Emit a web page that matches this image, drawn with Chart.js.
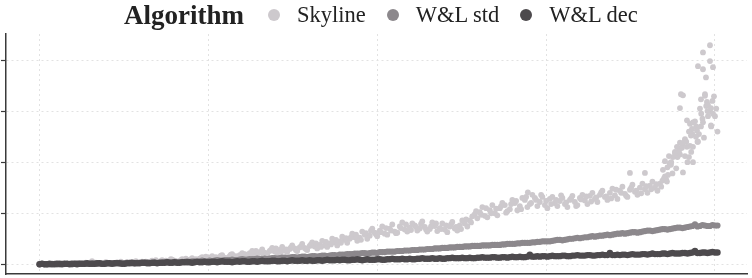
<!DOCTYPE html>
<html>
<head>
<meta charset="utf-8">
<script src="https://cdn.jsdelivr.net/npm/chart.js@4.4.0/dist/chart.umd.min.js"></script>
<style>
  body { margin: 0; background: #fff; }
  #wrap { position: relative; width: 752px; height: 278px; }
  #legend {
    position: absolute; left: 124px; top: 0; height: 30px;
    display: flex; align-items: center;
    font-family: "Liberation Serif", "Times New Roman", serif; color: #222;
  }
  #legend .title { font-weight: bold; font-size: 27px; margin-right: 24px; }
  #legend .dot { width: 12px; height: 12px; border-radius: 50%; margin-right: 17px; }
  #legend .lbl { font-size: 22.5px; margin-right: 21px; }
</style>
</head>
<body>
<div id="wrap">
  <canvas id="chart"></canvas>
  <div id="legend"></div>
</div>
<script>
// series names / colours (legend order)
const seriesNames = ["Skyline", "W&L std", "W&L dec"];
const seriesColors = ["#cdc9cd", "#8c888c", "#4d4a4d"];

// x positions are instance indices 0..135, gridlines every quarter
const xTicks = [0, 33.75, 67.5, 101.25, 135];
const yTicks = [0, 1, 2, 3, 4];

// W&L dec, one reading per index plus one half a step to the right
const decValues = [
  0.00,0.00,0.01,0.00,0.01,0.01,0.00,0.01,0.01,0.01,
  0.01,0.01,0.02,0.01,0.02,0.02,0.02,0.01,0.02,0.02,
  0.02,0.03,0.02,0.03,0.03,0.03,0.03,0.04,0.03,0.04,
  0.04,0.04,0.04,0.05,0.04,0.05,0.05,0.05,0.05,0.05,
  0.05,0.06,0.05,0.06,0.06,0.06,0.06,0.07,0.06,0.07,
  0.07,0.07,0.07,0.07,0.08,0.07,0.08,0.08,0.08,0.08,
  0.08,0.09,0.08,0.09,0.09,0.09,0.09,0.09,0.10,0.09,
  0.10,0.10,0.10,0.10,0.11,0.10,0.11,0.11,0.11,0.11,
  0.12,0.11,0.12,0.12,0.12,0.12,0.13,0.12,0.13,0.13,
  0.13,0.14,0.13,0.14,0.14,0.14,0.15,0.14,0.19,0.15,
  0.15,0.16,0.16,0.16,0.16,0.17,0.16,0.17,0.17,0.17,
  0.18,0.17,0.18,0.18,0.22,0.18,0.18,0.19,0.19,0.19,
  0.19,0.20,0.20,0.20,0.20,0.21,0.21,0.21,0.21,0.22,
  0.22,0.26,0.22,0.23,0.23,0.23
];
const decValuesB = [
  0.01,0.00,0.00,0.01,0.00,0.01,0.01,0.00,0.01,0.02,
  0.01,0.02,0.01,0.02,0.01,0.02,0.01,0.02,0.03,0.02,
  0.03,0.02,0.03,0.02,0.03,0.04,0.03,0.03,0.04,0.04,
  0.03,0.05,0.04,0.04,0.05,0.04,0.06,0.05,0.04,0.06,
  0.06,0.05,0.06,0.05,0.07,0.06,0.07,0.06,0.07,0.06,
  0.08,0.07,0.08,0.07,0.07,0.08,0.07,0.09,0.08,0.09,
  0.09,0.08,0.09,0.10,0.08,0.10,0.09,0.10,0.09,0.10,
  0.11,0.10,0.11,0.10,0.10,0.11,0.12,0.11,0.12,0.11,
  0.11,0.12,0.13,0.12,0.13,0.12,0.12,0.13,0.14,0.13,
  0.14,0.13,0.14,0.13,0.15,0.14,0.14,0.15,0.15,0.16,
  0.16,0.15,0.17,0.16,0.17,0.16,0.17,0.18,0.17,0.18,
  0.17,0.18,0.19,0.18,0.18,0.19,0.19,0.18,0.20,0.19,
  0.20,0.19,0.21,0.20,0.21,0.20,0.22,0.21,0.22,0.21,
  0.23,0.22,0.23,0.22,0.24,0.23
];

// W&L std
const stdValues = [
  0.00,0.00,0.00,0.01,0.00,0.01,0.01,0.01,0.01,0.01,
  0.01,0.01,0.02,0.01,0.02,0.02,0.02,0.02,0.03,0.02,
  0.03,0.03,0.03,0.04,0.03,0.04,0.04,0.05,0.04,0.05,
  0.05,0.06,0.06,0.06,0.07,0.07,0.07,0.08,0.08,0.08,
  0.09,0.09,0.10,0.10,0.10,0.11,0.11,0.12,0.12,0.13,
  0.13,0.14,0.14,0.15,0.15,0.16,0.16,0.17,0.17,0.18,
  0.19,0.19,0.20,0.21,0.21,0.22,0.22,0.23,0.24,0.24,
  0.25,0.25,0.26,0.27,0.27,0.28,0.29,0.29,0.30,0.31,
  0.31,0.32,0.33,0.33,0.34,0.35,0.35,0.36,0.36,0.37,
  0.37,0.38,0.38,0.39,0.40,0.40,0.41,0.42,0.42,0.43,
  0.44,0.45,0.45,0.47,0.48,0.48,0.50,0.51,0.51,0.53,
  0.54,0.54,0.56,0.57,0.57,0.59,0.60,0.60,0.62,0.63,
  0.63,0.65,0.66,0.66,0.68,0.69,0.69,0.71,0.72,0.72,
  0.74,0.78,0.75,0.76,0.75,0.76
];
const stdValuesB = [
  0.01,0.00,0.01,0.00,0.01,0.01,0.00,0.02,0.01,0.01,
  0.02,0.01,0.01,0.02,0.02,0.03,0.02,0.03,0.02,0.03,
  0.03,0.04,0.03,0.03,0.04,0.05,0.04,0.04,0.05,0.06,
  0.06,0.05,0.07,0.06,0.06,0.08,0.07,0.08,0.09,0.08,
  0.10,0.09,0.10,0.11,0.11,0.10,0.12,0.11,0.13,0.12,
  0.14,0.13,0.15,0.14,0.16,0.15,0.17,0.16,0.18,0.17,
  0.19,0.20,0.20,0.21,0.22,0.21,0.23,0.22,0.24,0.25,
  0.25,0.26,0.26,0.27,0.28,0.28,0.29,0.30,0.30,0.31,
  0.32,0.32,0.33,0.34,0.34,0.35,0.36,0.36,0.37,0.37,
  0.38,0.38,0.39,0.40,0.40,0.41,0.42,0.42,0.43,0.44,
  0.45,0.45,0.46,0.48,0.47,0.49,0.50,0.52,0.52,0.53,
  0.55,0.55,0.56,0.58,0.58,0.60,0.61,0.61,0.63,0.62,
  0.64,0.66,0.65,0.67,0.69,0.68,0.70,0.72,0.71,0.73,
  0.75,0.74,0.77,0.75,0.77,0.76
];

// Skyline: three readings per index (offset 0, +0.25, +0.5 of a step)
const skylineA = [
  0.00,0.01,0.00,0.01,0.01,0.00,0.01,0.01,0.02,0.01,0.01,
  0.02,0.02,0.01,0.02,0.02,0.03,0.02,0.03,0.03,0.03,0.04,
  0.04,0.05,0.04,0.06,0.05,0.07,0.06,0.08,0.09,0.08,
  0.11,0.10,0.13,0.12,0.14,0.13,0.16,0.15,0.18,0.20,
  0.22,0.20,0.24,0.23,0.26,0.25,0.28,0.27,0.30,0.31,
  0.33,0.32,0.36,0.35,0.38,0.37,0.41,0.43,0.45,0.48,
  0.50,0.53,0.52,0.58,0.56,0.62,0.66,0.60,0.70,0.64,
  0.74,0.68,0.72,0.76,0.70,0.73,0.69,0.75,0.71,0.68,
  0.74,0.70,0.76,0.80,0.86,0.98,1.02,0.95,1.06,1.00,
  1.10,1.16,1.08,1.20,1.14,1.26,1.18,1.30,1.22,1.16,
  1.28,1.20,1.24,1.18,1.26,1.22,1.30,1.25,1.34,1.28,
  1.36,1.32,1.40,1.35,1.44,1.38,1.46,1.42,1.50,1.47,
  1.54,1.50,1.58,1.72,1.95,2.20,2.15,2.45,2.60,2.80,
  3.05,3.30,3.00,2.90
];
const skylineB = [
  0.01,0.00,0.01,0.00,0.02,0.01,0.01,0.02,0.01,0.02,0.06,
  0.02,0.01,0.03,0.02,0.03,0.02,0.04,0.03,0.04,0.05,0.04,
  0.07,0.03,0.08,0.04,0.09,0.05,0.10,0.06,0.12,0.07,
  0.14,0.08,0.16,0.10,0.18,0.11,0.20,0.13,0.22,0.15,
  0.26,0.17,0.29,0.19,0.32,0.22,0.34,0.24,0.37,0.26,
  0.40,0.28,0.43,0.31,0.46,0.34,0.50,0.37,0.54,0.42,
  0.60,0.46,0.64,0.50,0.70,0.55,0.74,0.58,0.78,0.62,
  0.82,0.64,0.80,0.66,0.84,0.64,0.82,0.65,0.80,0.63,
  0.83,0.66,0.86,0.74,0.94,0.90,1.12,0.92,1.16,0.96,
  1.20,1.04,1.26,1.06,1.30,1.12,1.36,1.14,1.32,1.10,
  1.32,1.14,1.30,1.12,1.34,1.16,1.36,1.18,1.40,1.22,
  1.44,1.26,1.48,1.28,1.52,1.32,1.56,1.36,1.58,1.40,
  1.62,1.44,1.64,1.90,1.78,2.10,2.35,2.00,2.55,2.40,
  2.85,3.00,3.20,2.60
];
const skylineC = [
  0.01,0.01,0.00,0.02,0.01,0.01,0.02,0.00,0.02,0.03,0.01,
  0.03,0.02,0.04,0.02,0.03,0.05,0.03,0.04,0.06,0.04,0.05,
  0.05,0.08,0.06,0.07,0.10,0.06,0.08,0.11,0.09,0.10,
  0.12,0.15,0.11,0.14,0.17,0.12,0.19,0.16,0.14,0.19,
  0.21,0.26,0.23,0.21,0.28,0.31,0.24,0.29,0.33,0.28,
  0.35,0.30,0.39,0.41,0.34,0.44,0.39,0.48,0.42,0.51,
  0.53,0.58,0.48,0.61,0.66,0.59,0.63,0.71,0.66,0.61,
  0.71,0.78,0.67,0.73,0.79,0.68,0.74,0.80,0.69,0.76,
  0.78,0.73,0.69,0.88,0.82,1.04,0.97,1.10,1.00,1.09,
  1.14,1.01,1.18,1.24,1.08,1.32,1.20,1.26,1.36,1.24,
  1.18,1.26,1.35,1.21,1.29,1.14,1.27,1.33,1.23,1.31,
  1.41,1.33,1.29,1.46,1.40,1.34,1.50,1.44,1.39,1.53,
  1.47,1.57,1.52,1.66,2.00,1.88,2.28,2.40,2.20,2.70,
  2.95,3.10,2.70,3.05
];
// scattered skyline outliers (mostly the blow-up at the right end)
const skylineExtraX = [
  134.0,132.6,134.0,131.6,132.6,134.6,133.2,128.2,128.6,133.0,
  134.8,132.2,133.4,133.6,134.2,134.6,133.6,128.0,129.4,130.0,
  130.6,130.4,131.4,132.2,132.6,131.8,131.2,132.8,129.8,130.2,
  134.2,129.0,128.0,127.4,128.4,127.8,129.4,130.0,130.6,131.6,
  127.0,126.6,125.8,125.0,129.0,129.8,126.0,124.6,125.6,126.2,
  124.8,125.4,128.6,130.6,118.0,121.0,97.6
];
const skylineExtraY = [
  4.29,4.15,3.98,3.88,3.82,3.86,3.66,3.33,3.31,3.33,
  3.29,3.23,3.18,3.12,3.06,2.95,2.90,3.06,2.82,2.75,
  2.78,2.65,2.62,2.70,2.78,2.55,2.50,2.48,2.60,2.52,
  2.72,2.42,2.38,2.30,2.28,2.22,2.30,2.32,2.30,2.40,
  2.18,2.10,2.12,2.02,2.12,2.10,1.98,1.85,1.75,1.95,
  1.68,1.62,1.80,2.00,1.79,1.79,1.41
];

const pts = (arr, shift) => arr.map((v, i) => ({ x: i + shift, y: v }));
const decPts = pts(decValues, 0).concat(pts(decValuesB, 0.5));
const stdPts = pts(stdValues, 0).concat(pts(stdValuesB, 0.5));
const skyPts = pts(skylineA, 0).concat(pts(skylineC, 0.25), pts(skylineB, 0.5))
  .concat(skylineExtraX.map((x, i) => ({ x: x, y: skylineExtraY[i] })));

// legend built in html so the bold title can sit inline
const legend = document.getElementById("legend");
legend.innerHTML = '<span class="title">Algorithm</span>' +
  seriesNames.map((n, i) =>
    `<span class="dot" style="background:${seriesColors[i]}"></span><span class="lbl">${n.replace("&", "&amp;")}</span>`
  ).join("");

const ctx = document.getElementById("chart").getContext("2d");
// dataset 0 is painted last, so the dark series goes first
new Chart(ctx, {
  type: "scatter",
  data: {
    datasets: [
      { label: seriesNames[2], data: decPts, backgroundColor: seriesColors[2], pointRadius: 3.2 },
      { label: seriesNames[1], data: stdPts, backgroundColor: seriesColors[1], pointRadius: 3.1 },
      { label: seriesNames[0], data: skyPts, backgroundColor: seriesColors[0], pointRadius: 2.9 }
    ]
  },
  options: {
    responsive: true,
    maintainAspectRatio: false,
    animation: false,
    events: [],
    layout: { padding: { top: 34, bottom: 4, left: 1, right: 5 } },
    elements: { point: { borderWidth: 0, hoverRadius: 0 } },
    plugins: { legend: { display: false }, tooltip: { enabled: false } },
    scales: {
      x: {
        type: "linear",
        min: -6.7, max: 141.4,
        afterBuildTicks: s => { s.ticks = xTicks.map(v => ({ value: v })); },
        ticks: { display: false },
        grid: { color: "#e2e2e2", drawTicks: false },
        border: { color: "#3a3a3a", width: 1.5, dash: [2, 3] }
      },
      y: {
        min: -0.19, max: 4.51,
        afterBuildTicks: s => { s.ticks = yTicks.map(v => ({ value: v })); },
        ticks: { display: false },
        grid: { color: "#e2e2e2", tickLength: 5, tickColor: "#3a3a3a", tickWidth: 1.2 },
        border: { color: "#3a3a3a", width: 1.5, dash: [2, 3] }
      }
    }
  }
});
</script>
</body>
</html>
